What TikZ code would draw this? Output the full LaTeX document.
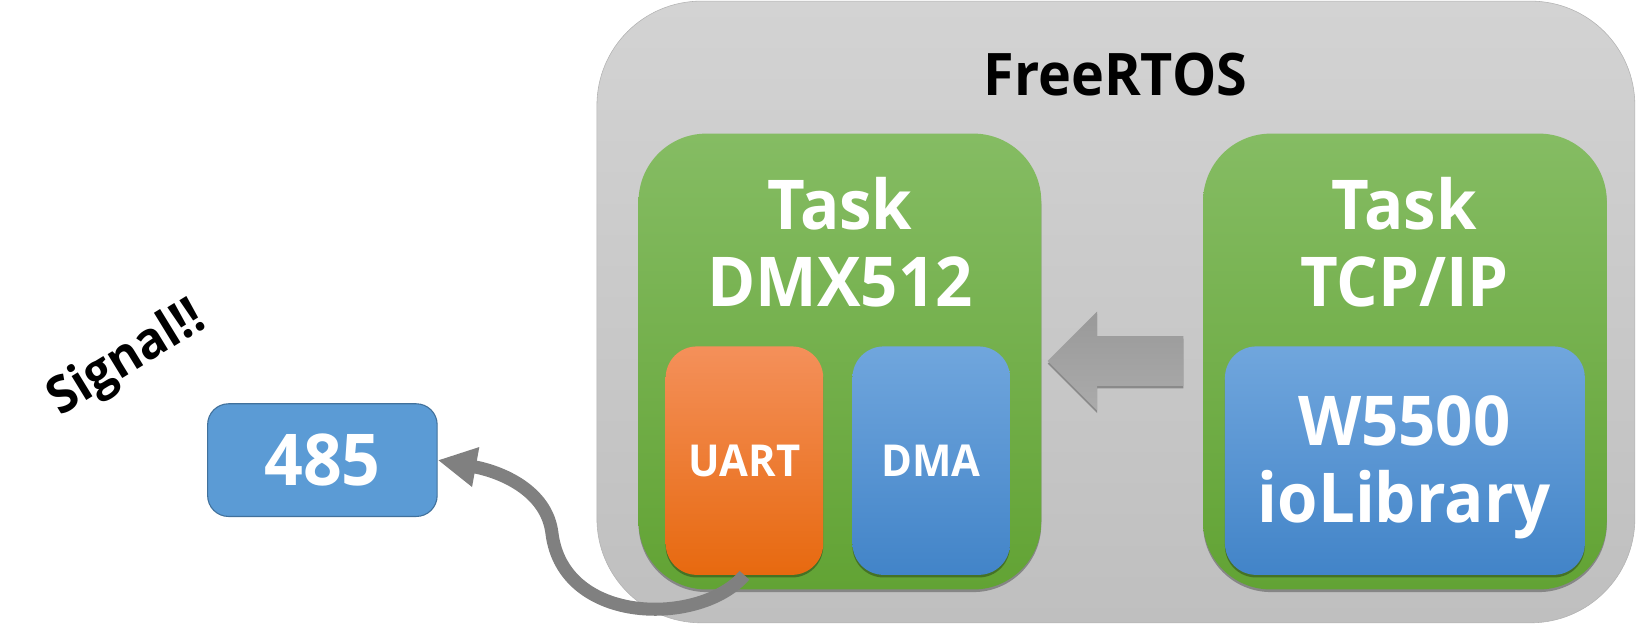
\documentclass[tikz,border=0pt]{standalone}
\usepackage{fontspec}
\setmainfont[FakeStretch=0.95]{Open Sans}
\usetikzlibrary{shapes.arrows,arrows.meta,shadows,positioning,calc}

\definecolor{frameTop}{HTML}{D3D3D3}
\definecolor{frameBot}{HTML}{BFBFBF}
\definecolor{greenTop}{HTML}{85BC63}
\definecolor{greenBot}{HTML}{62A334}
\definecolor{orangeTop}{HTML}{F4905A}
\definecolor{orangeBot}{HTML}{E7690F}
\definecolor{blueTop}{HTML}{70A6DD}
\definecolor{blueBot}{HTML}{4284C8}
\definecolor{rsFill}{HTML}{5B9BD5}
\definecolor{rsLine}{HTML}{41719C}

\tikzset{
  softshadow/.style={drop shadow={shadow xshift=0cm, shadow yshift=-0.05cm, opacity=0.3, fill=black}},
  box/.style={rectangle, inner sep=0pt, text=white, font=\bfseries},
}

\begin{document}
\begin{tikzpicture}[x=0.02cm, y=-0.02cm]
    \useasboundingbox (0,0) rectangle (1568,598);
    % outer frame
    \node[box, draw=black!30, line width=0.3pt, top color=frameTop, bottom color=frameBot, rounded corners=2cm, minimum width=19.9cm, minimum height=11.92cm] (RTOS) at (1069.5,299) {};
    \node[font=\bfseries\fontsize{32}{36}\selectfont] (RTOStitle) at (1069,71) {FreeRTOS};
    % tasks
    \node[box, softshadow, top color=greenTop, bottom color=greenBot, rounded corners=1.3cm, minimum width=7.72cm, minimum height=8.74cm] (TaskDMX) at (805,346.5) {};
    \node[box, softshadow, top color=greenTop, bottom color=greenBot, rounded corners=1.3cm, minimum width=7.74cm, minimum height=8.74cm] (TaskTCP) at (1346.5,346.5) {};
    \node[box, align=center, font=\bfseries\fontsize{37.5}{42}\selectfont] (DMXtitle) at (805,232) {Task\\DMX512};
    \node[box, align=center, font=\bfseries\fontsize{37.5}{42}\selectfont] (TCPtitle) at (1346,232) {Task\\TCP/IP};
    % peripherals
    \node[box, softshadow, top color=orangeTop, bottom color=orangeBot, rounded corners=0.6cm, minimum width=3.02cm, minimum height=4.38cm, font=\bfseries\fontsize{24}{28}\selectfont] (UART) at (713.5,441.5) {UART};
    \node[box, softshadow, top color=blueTop, bottom color=blueBot, rounded corners=0.6cm, minimum width=3.02cm, minimum height=4.38cm, font=\bfseries\fontsize{24}{28}\selectfont] (DMA) at (892.5,441.5) {DMA};
    \node[box, softshadow, top color=blueTop, bottom color=blueBot, rounded corners=0.6cm, minimum width=6.9cm, minimum height=4.38cm] (W5500) at (1346.5,441.5) {};
    \node[box, align=center, font=\bfseries\fontsize{37.5}{42}\selectfont] (W5500title) at (1346,448) {W5500\\ioLibrary};
    % arrow between tasks
    \node[single arrow, shape border rotate=180, softshadow, inner xsep=0pt, inner ysep=0.47cm, top color=black!40, bottom color=black!33, minimum height=2.6cm, single arrow head extend=0.47cm, single arrow tip angle=90] (Queue) at (1081,346) {};
    % transceiver
    \node[box, draw=rsLine, line width=0.6pt, fill=rsFill, rounded corners=0.4cm, minimum width=4.4cm, minimum height=2.16cm, font=\bfseries\fontsize{39}{42}\selectfont] (RS) at (309,441) {485};
    \node[rotate=31.5, font=\bfseries\fontsize{28}{30}\selectfont] (Signal) at (122,345) {Signal!!};
    % signal line
    \draw[line width=0.25cm, draw=black!50, -{Triangle[length=0.74cm,width=0.72cm]}] (UART.south) .. controls (672,600) and (540,600) .. (529,511) .. controls (524,470) and (480,452) .. (RS.east);
\end{tikzpicture}
\end{document}
